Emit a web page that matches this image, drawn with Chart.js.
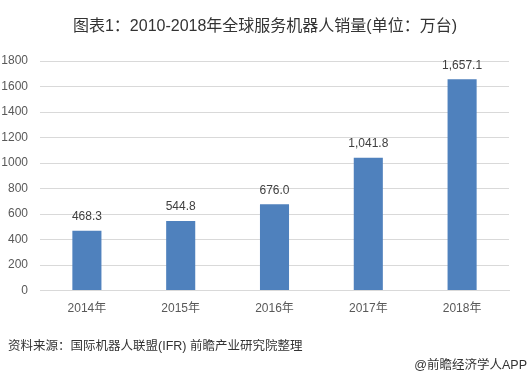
<!DOCTYPE html>
<html>
<head>
<meta charset="utf-8">
<script src="https://cdn.jsdelivr.net/npm/chart.js@4.4.0/dist/chart.umd.min.js"></script>
<style>
  body { margin: 0; background: #fff; font-family: "Liberation Sans", "Noto Sans CJK SC", sans-serif; }
  #wrap { position: relative; width: 530px; height: 376px; overflow: hidden; }
  #title { position: absolute; top: 12px; left: 0; width: 530px; text-align: center; font-size: 16px; color: #333; }
  #source { position: absolute; left: 8px; top: 335px; font-size: 12.5px; color: #333; }
  #brand { position: absolute; right: 3px; top: 354px; font-size: 12.5px; color: #333; }
  canvas { position: absolute; left: 0; top: 0; }
</style>
</head>
<body>
<div id="wrap">
  <canvas id="chart" width="530" height="376"></canvas>
  <div id="title">图表1：2010-2018年全球服务机器人销量(单位：万台)</div>
  <div id="source">资料来源：国际机器人联盟(IFR) 前瞻产业研究院整理</div>
  <div id="brand">@前瞻经济学人APP</div>
</div>
<script>
// 数据
const years = ['2014年', '2015年', '2016年', '2017年', '2018年'];
const sales = [468.3, 544.8, 676.0, 1041.8, 1657.1];
const yTicks = [0, 200, 400, 600, 800, 1000, 1200, 1400, 1600, 1800];

const fontFamily = '"Liberation Sans", "Noto Sans CJK SC", sans-serif';

// 柱顶数值标签
const valueLabels = {
  id: 'valueLabels',
  afterDatasetsDraw(chart) {
    const ctx = chart.ctx;
    const meta = chart.getDatasetMeta(0);
    ctx.save();
    ctx.font = '12px ' + fontFamily;
    ctx.fillStyle = '#404040';
    ctx.textAlign = 'center';
    ctx.textBaseline = 'middle';
    meta.data.forEach((bar, i) => {
      const txt = sales[i].toLocaleString('en-US', { minimumFractionDigits: 1, maximumFractionDigits: 1 });
      ctx.fillText(txt, bar.x, bar.y - 14);
    });
    ctx.restore();
  }
};

new Chart(document.getElementById('chart').getContext('2d'), {
  type: 'bar',
  data: {
    labels: years,
    datasets: [{
      data: sales,
      backgroundColor: '#4f81bd',
      barPercentage: 0.31,
      categoryPercentage: 1.0
    }]
  },
  options: {
    responsive: false,
    animation: false,
    layout: { padding: { top: 61, left: 2, right: 21, bottom: 57 } },
    plugins: {
      legend: { display: false },
      tooltip: { enabled: false }
    },
    scales: {
      x: {
        grid: { display: false },
        border: { display: true, color: '#d9d9d9' },
        ticks: { color: '#595959', font: { size: 12, family: fontFamily }, padding: 3 }
      },
      y: {
        min: 0,
        max: 1800,
        afterBuildTicks: axis => { axis.ticks = yTicks.map(v => ({ value: v })); },
        afterFit: axis => { axis.width = 38; },
        grid: { color: '#d9d9d9', drawTicks: false },
        border: { display: false },
        ticks: { color: '#595959', font: { size: 12, family: fontFamily }, padding: 12, callback: v => String(v) }
      }
    }
  },
  plugins: [valueLabels]
});
</script>
</body>
</html>
